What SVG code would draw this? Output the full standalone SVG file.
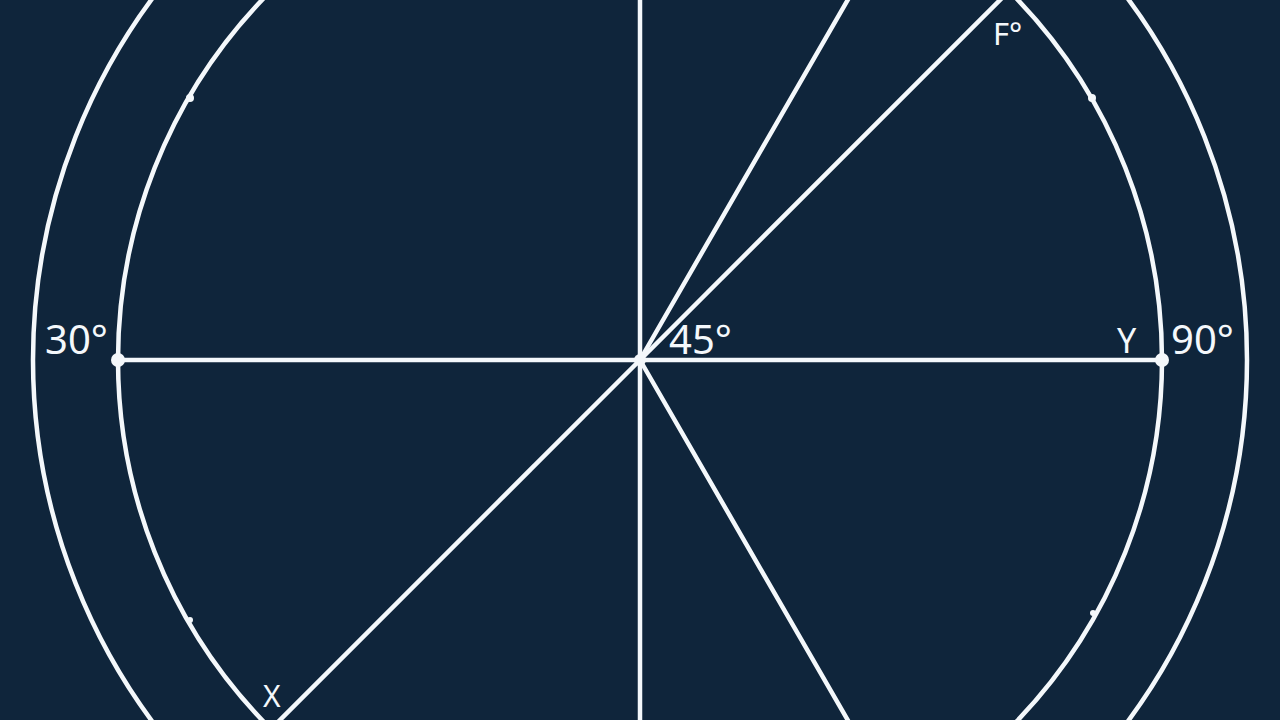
<svg xmlns="http://www.w3.org/2000/svg" width="1280" height="720" viewBox="0 0 1280 720">
<style>
.ln{stroke:#f4f8fb;stroke-width:4.5;fill:none;stroke-linecap:round}
.dot{fill:#f4f8fb}
.lbl{fill:#f4f8fb;font-family:"Noto Sans","Liberation Sans",sans-serif}
</style>
<rect width="1280" height="720" fill="#0f253b"/>
<g id="circles">
<circle class="ln" cx="640" cy="360" r="607"/>
<circle class="ln" cx="640" cy="360" r="522"/>
</g>
<g id="lines">
<line class="ln" x1="640" y1="-5" x2="640" y2="725"/>
<line class="ln" x1="118" y1="360" x2="1162" y2="360"/>
<line class="ln" x1="640" y1="360" x2="850" y2="-4"/>
<line class="ln" x1="640" y1="360" x2="1004" y2="-4"/>
<line class="ln" x1="640" y1="360" x2="276" y2="724"/>
<line class="ln" x1="640" y1="360" x2="850" y2="724"/>
</g>
<g id="points">
<circle class="dot" cx="640" cy="360" r="6"/>
<circle class="dot" cx="118" cy="360" r="7"/>
<circle class="dot" cx="1162" cy="360" r="7"/>
<circle class="dot" cx="190" cy="98" r="4"/>
<circle class="dot" cx="1092" cy="98" r="4"/>
<circle class="dot" cx="190" cy="620" r="3"/>
<circle class="dot" cx="1093" cy="613" r="3"/>
</g>
<g id="labels">
<text class="lbl" x="669" y="354" font-size="40">45°</text>
<text class="lbl" x="45" y="354" font-size="40">30°</text>
<text class="lbl" x="1171" y="354" font-size="40">90°</text>
<text class="lbl" x="1117" y="353" font-size="34">Y</text>
<text class="lbl" x="993" y="45" font-size="31">F°</text>
<text class="lbl" x="263" y="707" font-size="30">X</text>
</g>
</svg>
